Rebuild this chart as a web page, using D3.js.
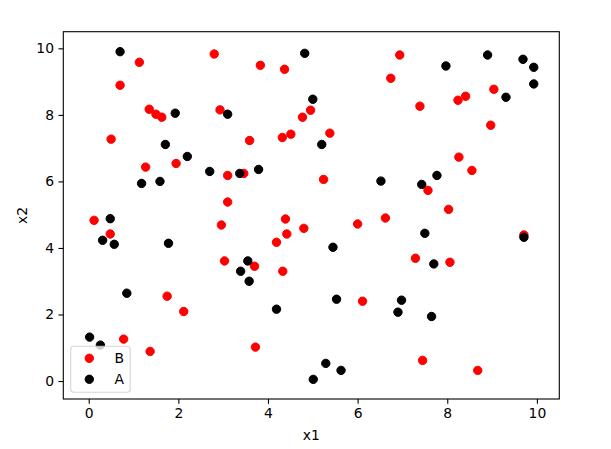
<!DOCTYPE html>
<html>
<head>
<meta charset="utf-8">
<script src="https://cdn.jsdelivr.net/npm/d3@7"></script>
<style>
  html, body { margin: 0; padding: 0; background: #fff; }
  svg { display: block; }
  text { font-family: "DejaVu Sans", sans-serif; }
</style>
</head>
<body>
<svg id="chart" width="611" height="449"></svg>
<script>
// ---- data ----
const seriesNames = ["B", "A"];
const seriesColors = ["#ff0000", "#000000"];
const xTicks = [0, 2, 4, 6, 8, 10];
const yTicks = [0, 2, 4, 6, 8, 10];
const xLabel = "x1";
const yLabel = "x2";

const bX = [1.13, 2.80, 0.70, 1.35, 1.50, 1.63, 2.93, 0.50, 1.27, 1.95, 3.10, 3.10, 3.83, 4.37, 6.74, 4.95, 4.77, 3.59, 4.32, 4.51,
            5.38, 3.46, 5.24, 4.39, 6.62, 6.94, 9.04, 8.41, 8.24, 7.39, 8.97, 8.26, 8.55, 7.57, 8.03, 0.12, 0.48, 2.96, 3.03, 1.75,
            2.12, 0.78, 1.37, 4.80, 4.42, 4.19, 6.00, 3.70, 4.33, 6.11, 3.72, 9.71, 7.29, 8.06, 7.45, 8.68];
const bY = [9.58, 9.83, 8.89, 8.17, 8.02, 7.93, 8.15, 7.27, 6.43, 6.54, 6.18, 5.38, 9.49, 9.37, 9.10, 8.14, 7.93, 7.23, 7.32, 7.42,
            7.45, 6.24, 6.06, 4.87, 4.90, 9.80, 8.77, 8.56, 8.44, 8.26, 7.69, 6.73, 6.33, 5.73, 5.16, 4.83, 4.42, 4.69, 3.61, 2.55,
            2.09, 1.26, 0.89, 4.59, 4.42, 4.17, 4.72, 3.45, 3.30, 2.40, 1.02, 4.39, 3.69, 3.57, 0.62, 0.32];

const aX = [0.70, 1.93, 3.10, 1.71, 2.20, 2.70, 1.18, 1.59, 4.82, 5.00, 5.20, 3.37, 3.79, 6.52, 7.97, 8.90, 9.69, 9.93, 9.93, 9.31,
            7.77, 7.43, 0.48, 0.31, 0.57, 1.78, 0.85, 0.02, 0.26, 5.45, 3.55, 3.39, 3.58, 5.53, 4.19, 5.29, 5.63, 5.01, 7.50, 9.71,
            7.70, 6.98, 6.90, 7.65];
const aY = [9.90, 8.05, 8.02, 7.11, 6.75, 6.30, 5.94, 6.00, 9.85, 8.47, 7.11, 6.24, 6.36, 6.01, 9.47, 9.80, 9.67, 9.43, 8.93, 8.53,
            6.18, 5.91, 4.88, 4.23, 4.11, 4.14, 2.64, 1.32, 1.08, 4.02, 3.61, 3.30, 3.00, 2.46, 2.16, 0.53, 0.32, 0.05, 4.44, 4.32,
            3.52, 2.43, 2.07, 1.94];

const series = [
  { name: seriesNames[0], color: seriesColors[0], xs: bX, ys: bY },
  { name: seriesNames[1], color: seriesColors[1], xs: aX, ys: aY }
];

// ---- layout ----
const svg = d3.select("#chart");
const L = 63.3, R = 559.3, T = 31.7, B = 399.0;
const fs = 13.9;
const tickLen = 4.86;

const x = d3.scaleLinear().domain([-0.567, 10.5]).range([L, R]);
const y = d3.scaleLinear().domain([-0.54, 10.5]).range([B, T]);

// points
const plot = svg.append("g");
series.forEach(s => {
  plot.append("g").selectAll("circle")
    .data(s.xs.map((v, i) => [v, s.ys[i]]))
    .join("circle")
    .attr("cx", d => x(d[0]))
    .attr("cy", d => y(d[1]))
    .attr("r", 4.2)
    .attr("fill", s.color)
    .attr("stroke", s.color)
    .attr("stroke-width", 1);
});

// frame
svg.append("rect")
  .attr("x", L).attr("y", T).attr("width", R - L).attr("height", B - T)
  .attr("fill", "none").attr("stroke", "#000").attr("stroke-width", 1.1);

// axes
const xAxis = d3.axisBottom(x).tickValues(xTicks).tickFormat(d3.format("d"))
  .tickSizeInner(tickLen).tickSizeOuter(0).tickPadding(4.4);
const yAxis = d3.axisLeft(y).tickValues(yTicks).tickFormat(d3.format("d"))
  .tickSizeInner(tickLen).tickSizeOuter(0).tickPadding(4.4);

const gx = svg.append("g").attr("transform", `translate(0,${B})`).call(xAxis);
const gy = svg.append("g").attr("transform", `translate(${L},0)`).call(yAxis);
[gx, gy].forEach(g => {
  g.select(".domain").remove();
  g.selectAll(".tick line").attr("stroke", "#000").attr("stroke-width", 1.1);
  g.selectAll(".tick text").attr("fill", "#000")
    .style("font-family", "'DejaVu Sans', sans-serif").style("font-size", fs + "px");
});

// axis labels
svg.append("text")
  .attr("x", (L + R) / 2).attr("y", 440)
  .attr("text-anchor", "middle")
  .style("font-size", fs + "px").attr("fill", "#000")
  .text(xLabel);
svg.append("text")
  .attr("transform", `translate(27,${(T + B) / 2}) rotate(-90)`)
  .attr("text-anchor", "middle")
  .style("font-size", fs + "px").attr("fill", "#000")
  .text(yLabel);

// legend
const lg = svg.append("g");
lg.append("rect")
  .attr("x", 70.7).attr("y", 346.2).attr("width", 59.5).attr("height", 46)
  .attr("rx", 3).attr("ry", 3)
  .attr("fill", "#fff").attr("fill-opacity", 0.8)
  .attr("stroke", "#cccccc").attr("stroke-opacity", 0.8).attr("stroke-width", 1.1);
series.forEach((s, i) => {
  const cy = 358.3 + i * 21;
  lg.append("circle").attr("cx", 89.3).attr("cy", cy).attr("r", 4.2)
    .attr("fill", s.color).attr("stroke", s.color).attr("stroke-width", 1);
  lg.append("text").attr("x", 114.5).attr("y", cy + 5)
    .style("font-size", fs + "px").attr("fill", "#000")
    .text(s.name);
});
</script>
</body>
</html>
